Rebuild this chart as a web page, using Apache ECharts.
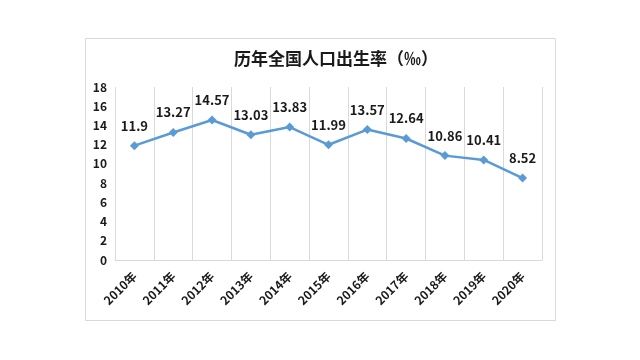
<!DOCTYPE html>
<html><head><meta charset="utf-8">
<script src="https://cdn.jsdelivr.net/npm/echarts@6/dist/echarts.min.js"></script>
<style>html,body{margin:0;padding:0;background:#fff}#c{width:640px;height:360px}</style>
</head><body><div id="c"></div>
<script>
var categories = ['2010年','2011年','2012年','2013年','2014年','2015年','2016年','2017年','2018年','2019年','2020年'];
var birthRate = [11.9,13.27,14.57,13.03,13.83,11.99,13.57,12.64,10.86,10.41,8.52];
var yTicks = {min:0, max:18, interval:2};
var font = '"Noto Sans CJK SC", "Liberation Sans", sans-serif';
var chart = echarts.init(document.getElementById('c'));
chart.setOption({
  backgroundColor:'#fff',
  animation:false,
  title:{text:'历年全国人口出生率（‰）', left:229, top:45,
    textStyle:{fontFamily:font, fontSize:17, fontWeight:'bold', color:'#1a1a1a'}},
  graphic:[{type:'rect', shape:{x:85.5,y:38.5,width:470,height:282},
    style:{fill:'none', stroke:'#d9d9d9', lineWidth:1}, silent:true}],
  grid:{left:115, right:98, top:87, bottom:100},
  xAxis:{type:'category', data:categories, boundaryGap:true,
    axisLine:{lineStyle:{color:'#d9d9d9'}}, axisTick:{show:false},
    splitLine:{show:true, lineStyle:{color:'#d9d9d9'}},
    axisLabel:{rotate:45, interval:0, fontFamily:font, fontSize:12, fontWeight:'bold', color:'#1a1a1a', margin:14}},
  yAxis:{type:'value', min:yTicks.min, max:yTicks.max, interval:yTicks.interval,
    axisLine:{show:false}, axisTick:{show:false}, splitLine:{show:false},
    axisLabel:{fontFamily:font, fontSize:12, fontWeight:'bold', color:'#1a1a1a', margin:8}},
  series:[{type:'line', data:birthRate, symbol:'diamond', symbolSize:9,
    lineStyle:{color:'#5b9bd5', width:2.5}, itemStyle:{color:'#5b9bd5'},
    label:{show:true, position:'top', distance:9, fontFamily:font, fontSize:13, fontWeight:'bold', color:'#1a1a1a'}}]
});
</script></body></html>
